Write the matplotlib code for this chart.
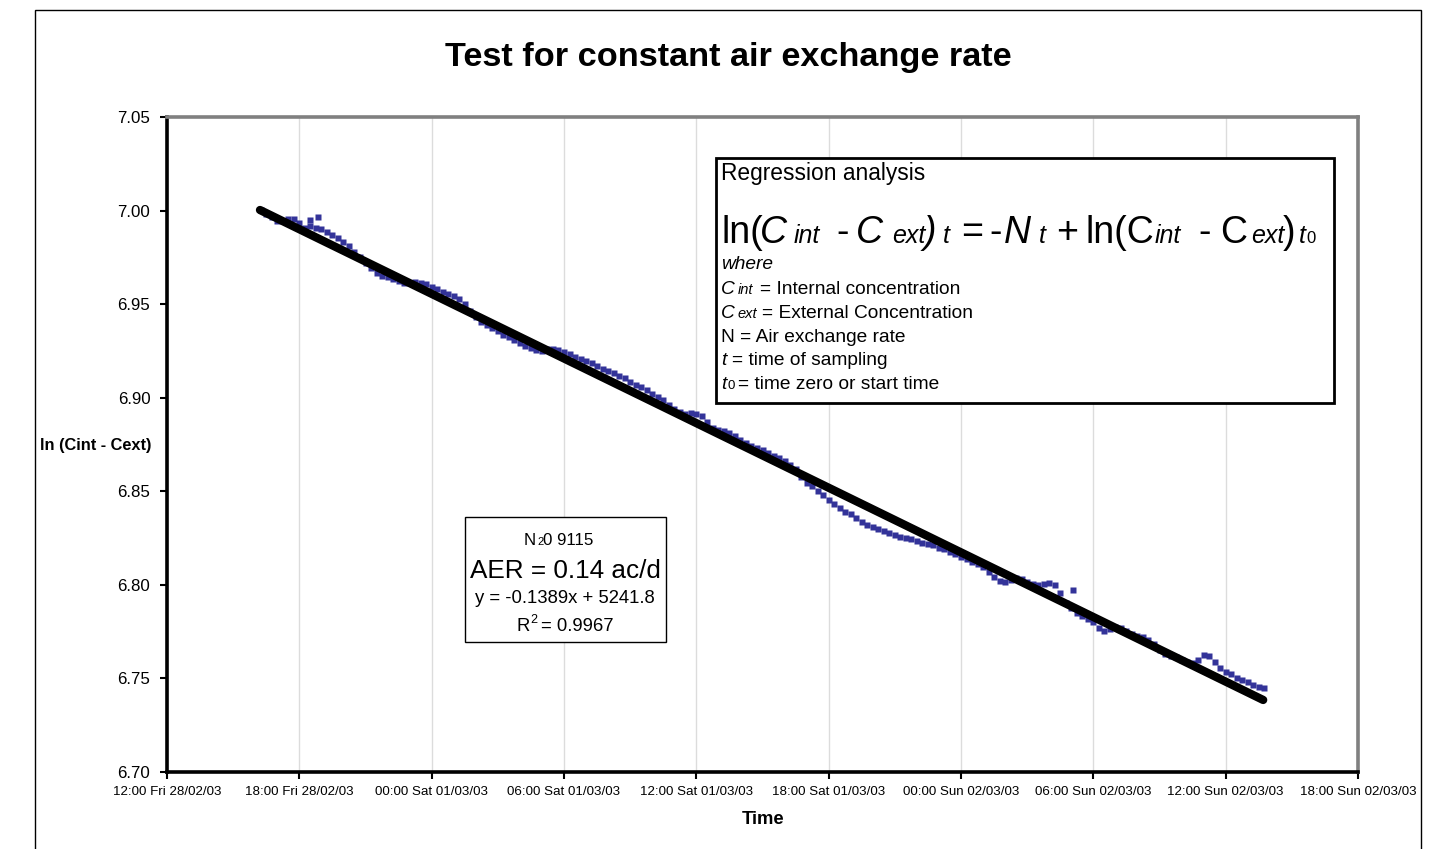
import matplotlib
matplotlib.use('Agg')
import matplotlib.pyplot as plt
import matplotlib.dates as mdates
import pandas as pd
from matplotlib.patches import Rectangle

# ---------------- data ----------------
start_time = '2003-02-28 16:15'
sample_freq = '15min'
ln_values = [
    7.0005, 6.9983, 6.9965, 6.9946, 6.9942, 6.9954, 6.9955, 6.9931, 6.9905, 6.9918,
    6.9908, 6.9899, 6.9884, 6.9870, 6.9853, 6.9833, 6.9809, 6.9778, 6.9750, 6.9719,
    6.9692, 6.9666, 6.9652, 6.9643, 6.9634, 6.9622, 6.9613, 6.9614, 6.9616, 6.9612,
    6.9606, 6.9593, 6.9579, 6.9564, 6.9553, 6.9542, 6.9527, 6.9502, 6.9466, 6.9430,
    6.9405, 6.9388, 6.9370, 6.9354, 6.9336, 6.9322, 6.9307, 6.9293, 6.9278, 6.9264,
    6.9253, 6.9251, 6.9258, 6.9259, 6.9253, 6.9244, 6.9232, 6.9217, 6.9209, 6.9194,
    6.9185, 6.9170, 6.9156, 6.9144, 6.9132, 6.9117, 6.9103, 6.9083, 6.9069, 6.9055,
    6.9040, 6.9021, 6.9003, 6.8986, 6.8963, 6.8941, 6.8921, 6.8912, 6.8919, 6.8915,
    6.8900, 6.8870, 6.8837, 6.8825, 6.8822, 6.8812, 6.8793, 6.8773, 6.8759, 6.8744,
    6.8730, 6.8720, 6.8706, 6.8691, 6.8677, 6.8662, 6.8643, 6.8617, 6.8576, 6.8545,
    6.8529, 6.8503, 6.8478, 6.8454, 6.8431, 6.8411, 6.8391, 6.8377, 6.8356, 6.8337,
    6.8322, 6.8308, 6.8296, 6.8287, 6.8275, 6.8266, 6.8257, 6.8253, 6.8245, 6.8235,
    6.8226, 6.8217, 6.8211, 6.8198, 6.8190, 6.8175, 6.8166, 6.8151, 6.8137, 6.8122,
    6.8113, 6.8096, 6.8071, 6.8040, 6.8018, 6.8016, 6.8026, 6.8039, 6.8029, 6.8015,
    6.8003, 6.7997, 6.8003, 6.8011, 6.7998, 6.7955, 6.7903, 6.7878, 6.7852, 6.7833,
    6.7818, 6.7799, 6.7770, 6.7756, 6.7765, 6.7773, 6.7768, 6.7754, 6.7740, 6.7728,
    6.7719, 6.7707, 6.7682, 6.7651, 6.7632, 6.7622, 6.7614, 6.7599, 6.7587, 6.7580,
    6.7598, 6.7626, 6.7620, 6.7590, 6.7556, 6.7537, 6.7522, 6.7503, 6.7493, 6.7479,
    6.7464, 6.7455, 6.7451,
]
extra_times = ['2003-02-28 18:29', '2003-02-28 18:51', '2003-03-02 05:05']
extra_values = [6.9950, 6.9966, 6.7972]

trend_times = ['2003-02-28 16:13', '2003-03-02 13:42']
trend_values = [7.0003, 6.7385]

x_range = ['2003-02-28 12:00', '2003-03-02 18:00']
y_range = [6.70, 7.05]
y_ticks = [6.70, 6.75, 6.80, 6.85, 6.90, 6.95, 7.00, 7.05]

title = 'Test for constant air exchange rate'
x_label = 'Time'
y_label = 'ln (Cint - Cext)'

# ---------------- figure ----------------
W, H = 1433, 849
FONT = 'Liberation Sans'
plt.rcParams['font.family'] = [FONT, 'DejaVu Sans']
fig = plt.figure(figsize=(W / 100, H / 100), dpi=100)
fig.patch.set_facecolor('white')

ax = fig.add_axes([167 / W, 1 - 772 / H, (1358 - 167) / W, (772 - 117) / H])

times = pd.date_range(start_time, periods=len(ln_values), freq=sample_freq)
ax.plot(times, ln_values, ls='none', marker='s', ms=4.3, color='#333399',
        mec='none', zorder=3)
ax.plot(pd.to_datetime(extra_times), extra_values, ls='none', marker='s', ms=4.3,
        color='#333399', mec='none', zorder=3)
ax.plot(pd.to_datetime(trend_times), trend_values, color='black', lw=6,
        solid_capstyle='round', zorder=4)

ax.set_xlim(pd.to_datetime(x_range[0]), pd.to_datetime(x_range[1]))
ax.set_ylim(*y_range)
ax.set_yticks(y_ticks)
ax.set_yticklabels([f'{v:.2f}' for v in y_ticks])
ax.xaxis.set_major_locator(mdates.HourLocator(byhour=[0, 6, 12, 18]))
ax.xaxis.set_major_formatter(mdates.DateFormatter('%H:%M %a %d/%m/%y'))

ax.set_axisbelow(True)
ax.grid(axis='x', color='#dcdcdc', lw=1)
ax.grid(axis='y', visible=False)

for s in ['left', 'bottom']:
    ax.spines[s].set_color('black')
    ax.spines[s].set_linewidth(2.6)
for s in ['top', 'right']:
    ax.spines[s].set_color('#808080')
    ax.spines[s].set_linewidth(2.6)

ax.tick_params(axis='y', direction='out', length=5, width=1.5, labelsize=12.2, pad=7)
ax.tick_params(axis='x', direction='out', length=5, width=1.5, labelsize=9.6, pad=5)


def put(x, y, s, size, style='normal', weight='normal', ha='left', va='baseline',
        z=6):
    return fig.text(x / W, 1 - y / H, s, fontsize=size, style=style,
                    weight=weight, ha=ha, va=va, family=FONT, zorder=z)


# outer chart frame
fig.add_artist(Rectangle((35 / W, -0.05), (1421 - 35) / W, 1 - 10 / H + 0.05,
                         transform=fig.transFigure, fill=False, lw=1,
                         ec='black', clip_on=False))

# title and axis labels
put(728, 66, title, 24.7, weight='bold', ha='center')
put(96, 446, y_label, 11.8, weight='bold', ha='center', va='center')
put(763, 819, x_label, 13.3, weight='bold', ha='center', va='center')

# regression box
fig.add_artist(Rectangle((716 / W, 1 - 403 / H), (1334 - 716) / W, (403 - 158) / H,
                         transform=fig.transFigure, fc='white', ec='black', lw=2,
                         zorder=5))
put(721, 180, 'Regression analysis', 16.4)

B, S = 27, 18
eq = [
    (721, 'ln(', B, 'normal'), (760, 'C', B, 'italic'), (794, 'int', S, 'italic'),
    (836, '-', B, 'normal'), (856, 'C', B, 'italic'), (892, 'ext', S, 'italic'),
    (924, ')', B, 'italic'), (943, 't', S, 'italic'), (961, '=', B, 'normal'),
    (989, '-', B, 'normal'), (1004, 'N', B, 'italic'), (1039, 't', S, 'italic'),
    (1056, '+', B, 'normal'), (1086, 'ln(C', B, 'normal'), (1155, 'int', S, 'italic'),
    (1198, '-', B, 'normal'), (1220, 'C', B, 'normal'), (1251, 'ext', S, 'italic'),
    (1283, ')', B, 'normal'), (1299, 't', S, 'italic'), (1306, '0', 12, 'normal'),
]
for x, s, size, style in eq:
    put(x, 243, s, size, style=style)

L = 13.8
lines = [
    (269, [(721, 'where', L, 'italic')]),
    (294, [(721, 'C', L, 'italic'), (738, 'int', 10.5, 'italic'),
           (760, '= Internal concentration', L, 'normal')]),
    (318, [(721, 'C', L, 'italic'), (738, 'ext', 10.5, 'italic'),
           (762, '= External Concentration', L, 'normal')]),
    (342, [(721, 'N = Air exchange rate', L, 'normal')]),
    (365, [(721, 't', L, 'italic'), (732, '= time of sampling', L, 'normal')]),
    (389, [(721, 't', L, 'italic'), (727, '0', 9.5, 'normal'),
           (738, '= time zero or start time', L, 'normal')]),
]
for yb, parts in lines:
    for x, s, size, style in parts:
        put(x, yb, s, size, style=style)

# AER box
fig.add_artist(Rectangle((465 / W, 1 - 642 / H), (666 - 465) / W, (642 - 517) / H,
                         transform=fig.transFigure, fc='white', ec='black', lw=1,
                         zorder=5))
put(524, 545, 'N', 12.2)
put(537, 545, '2', 8)
put(543, 545, '0 9115', 12.2)
put(565, 578, 'AER = 0.14 ac/d', 18.8, ha='center')
put(565, 603, 'y = -0.1389x + 5241.8', 13.3, ha='center')
put(516, 631, 'R', 13.3)
put(530, 623, '2', 9)
put(541, 631, '= 0.9967', 13.3)

fig.savefig('out.png', dpi=100, facecolor='white')
